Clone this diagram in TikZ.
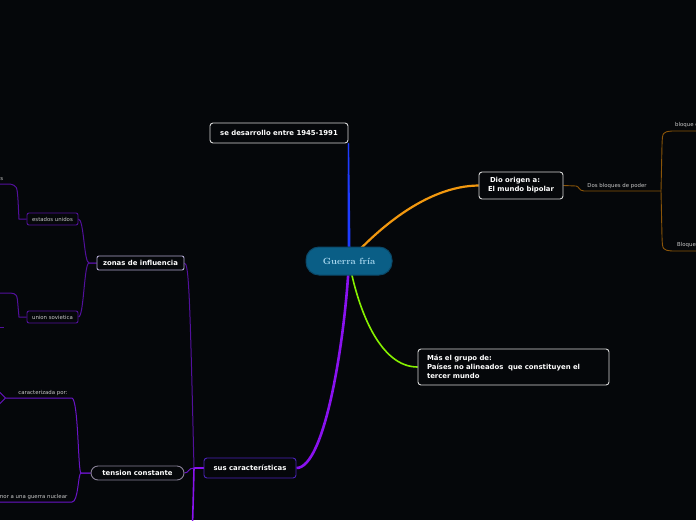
\documentclass[tikz,border=0pt]{standalone}
\usepackage{fontspec}
\newfontfamily\dv{DejaVu Sans}
\usetikzlibrary{calc}
\definecolor{bgc}{HTML}{05070A}
\definecolor{gffill}{HTML}{0A5E86}
\definecolor{gfdraw}{HTML}{0A4868}
\definecolor{gftext}{HTML}{A6D6EE}
\definecolor{boxline}{HTML}{D8D8D8}
\definecolor{cblue}{HTML}{1E3CFF}
\definecolor{corange}{HTML}{F2980F}
\definecolor{cgreen}{HTML}{86F000}
\definecolor{cpurple}{HTML}{8A12F0}
\definecolor{dpurple}{HTML}{52109C}
\definecolor{mpurple}{HTML}{6A14C8}
\definecolor{dorange}{HTML}{8A5408}
\definecolor{lbl}{HTML}{C8C8C8}
\definecolor{susline}{HTML}{4A22B8}
\definecolor{zonline}{HTML}{B0A8D0}
\definecolor{tenline}{HTML}{8A8298}
\pgfdeclarelayer{bgl}
\pgfdeclarelayer{edges}
\pgfsetlayers{bgl,edges,main}
\begin{document}
\begin{tikzpicture}[x=1pt,y=-1pt,
  gfnode/.style={draw=gfdraw, fill=gffill, line width=1pt, rounded corners=13pt,
    minimum width=86pt, minimum height=28pt, inner sep=0pt, text=gftext,
    font=\bfseries\fontsize{9}{10}\selectfont},
  mainbox/.style={draw=boxline, fill=bgc, line width=0.9pt, rounded corners=3pt,
    text=white, font=\dv\bfseries\fontsize{6.9}{9}\selectfont, inner sep=0pt},
  smallbox/.style={draw=dpurple, fill=bgc, line width=0.9pt, rounded corners=2pt,
    minimum width=51pt, minimum height=12pt, inner sep=0pt, text=lbl,
    font=\dv\fontsize{5.4}{6}\selectfont},
  small/.style={text=lbl, font=\dv\fontsize{5.4}{6}\selectfont, inner sep=0pt},
  thinp/.style={dpurple, line width=1pt},
  medp/.style={mpurple, line width=1pt},
  thino/.style={dorange, line width=0.9pt}
]
\begin{pgfonlayer}{bgl}
\fill[bgc] (0,0) rectangle (696,520);
\end{pgfonlayer}
\useasboundingbox (0,0) rectangle (696,520);

% nodes
\node[gfnode] (gf) at (349,261) {Guerra fría};
\node[mainbox, minimum width=138pt, minimum height=20pt] (sd) at (279,133) {se desarrollo entre 1945-1991};
\node[mainbox, minimum width=84pt, minimum height=27pt, align=left] (dio) at (521,185.5) {\hspace{2pt}Dio origen a:\\El mundo bipolar};
\node[mainbox, minimum width=191pt, minimum height=36pt, text width=173pt, align=left] (mas) at (513.5,367) {Más el grupo de:\\Países no alineados\ \ que constituyen el\\tercer mundo};
\node[mainbox, draw=susline, minimum width=92pt, minimum height=20pt] (sus) at (250,468) {sus características};
\node[mainbox, draw=zonline, minimum width=87pt, minimum height=14pt, rounded corners=2pt] (zonas) at (140.5,263) {zonas de influencia};
\node[mainbox, draw=tenline, minimum width=93pt, minimum height=14pt, rounded corners=7pt] (ten) at (137.5,473) {tension constante};
\node[smallbox] (eu) at (52.5,219) {estados unidos};
\node[smallbox] (us) at (52.5,317) {union sovietica};

% labels
\node[small] (dos) at (617,186) {Dos bloques de poder};
\node[small, anchor=west] (bq1) at (675,125.5) {bloque capitalista};
\node[small, anchor=west] (bq2) at (677,245.5) {Bloque comunista};
\node[small] (car) at (43,393) {caracterizada por:};
\node[small, anchor=east] (nuc) at (67.5,497) {temor a una guerra nuclear};
\node[small, anchor=east] (tops) at (3.5,179) {países capitalistas};

% free-end coordinates
\coordinate (jr) at (661,191);
\coordinate (bq1e) at (700,131);
\coordinate (bq2e) at (700,251);
\coordinate (jn) at (194,468);
\coordinate (bot) at (192.5,525);
\coordinate (tl) at (-2,184);
\coordinate (ml) at (-2,293);
\coordinate (mlb) at (-2,327.5);
\coordinate (mlbe) at (4,327.5);
\coordinate (carL) at (5.5,398);
\coordinate (carU) at (-1,391.5);
\coordinate (carD) at (-1,404.5);
\coordinate (nucL) at (-2,502);

\begin{pgfonlayer}{edges}
% main branches
\draw[cblue, line width=1.2pt] (gf.center) -- (sd.south east);
\fill[cblue] ($(sd.south east)+(-0.6,0)$) -- ($(sd.south east)+(0.6,0)$)
  -- ($(gf.north)+(1.5,0)$) -- ($(gf.north)+(-1.5,0)$) -- cycle;
\draw[corange, line width=2.2pt] (gf.center) .. controls (375,232) and (425,186) .. (dio.west);
\draw[cgreen, line width=1.6pt] (gf.center) .. controls (358,310) and (380,367) .. (mas.west);
\draw[cpurple, line width=2.6pt] (gf.center) .. controls (345,340) and (325,468) .. (sus.east);

% orange sub-branches
\draw[thino] (dio.east) -- (576,186) .. controls (579,186) and (579,191) .. (584,191) -- (jr);
\draw[thino] (jr) -- (662,145) .. controls (662.5,132) .. (672,131) -- (bq1e);
\draw[thino] (jr) -- (662,237) .. controls (662.5,250) .. (672,251) -- (bq2e);

% purple sub-branches
\draw[cpurple, line width=1.6pt] (sus.west) -- (jn);
\draw[cpurple, line width=1.6pt] (jn) .. controls (193.5,490) .. (bot);
\draw[thinp] (jn) .. controls (190,300) and (189,263) .. (zonas.east);
\draw[medp] (jn) .. controls (188,468) and (189,473) .. (ten.east);

\draw[thinp] (zonas.west) -- (89,263) .. controls (84,263) and (84,219) .. (eu.east);
\draw[thinp] (zonas.west) -- (89,263) .. controls (84,263) and (84,317) .. (us.east);
\draw[thinp] (eu.west) -- (19,219) -- (18,200) .. controls (17,186) .. (10,184) -- (tl);
\draw[thinp] (us.west) -- (19,317) -- (18,306) .. controls (17,294) .. (10,293) -- (ml);
\draw[thinp] (mlb) -- (mlbe);

\draw[medp] (ten.west) -- (81,473) .. controls (78,473) and (78.5,400) .. (72,398) -- (carL);
\draw[medp] (ten.west) -- (81,473) .. controls (78,473) and (78.5,502) .. (72,502) -- (nucL);
\draw[medp] (carL) -- (carU) (carL) -- (carD);
\end{pgfonlayer}
\end{tikzpicture}
\end{document}
